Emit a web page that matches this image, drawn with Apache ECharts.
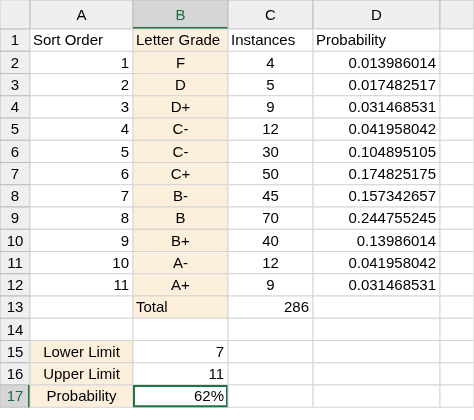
<!DOCTYPE html>
<html><head><meta charset="utf-8">
<script src="https://cdn.jsdelivr.net/npm/echarts@6/dist/echarts.min.js"></script>
<style>html,body{margin:0;padding:0;background:#fff}#c{width:474px;height:420px}</style>
</head><body><div id="c"></div>
<script>
const columnLetters = ['A','B','C','D'];
const headers = ['Sort Order','Letter Grade','Instances','Probability'];
const sortOrder = [1,2,3,4,5,6,7,8,9,10,11];
const grades = ['F','D','D+','C-','C-','C+','B-','B','B+','A-','A+'];
const instances = [4,5,9,12,30,50,45,70,40,12,9];
const probability = ['0.013986014','0.017482517','0.031468531','0.041958042','0.104895105','0.174825175','0.157342657','0.244755245','0.13986014','0.041958042','0.031468531'];
const totalLabel = 'Total', totalValue = '286';
const limitLabels = ['Lower Limit','Upper Limit','Probability'];
const limitValues = ['7','11','62%'];

const colEdges = [0,30,133,228,313,440,474];
const headerH = 29, rowH = 22.25, nRows = 17;
const rowTop = r => r===0 ? 0 : headerH + (r-1)*rowH;
const rowBot = r => r===0 ? headerH : headerH + r*rowH;
const TAN = '#fcf0dc', HEAD = '#efefef', HEADSEL = '#d6d6d6';

const cells = [];
function add(c, r, text, align, fill, opt){ cells.push(Object.assign({c,r,text:text==null?'':String(text),align:align||'left',fill:fill||'#fff'},opt||{})); }
// corner + headers
add(0,0,'','center',HEAD);
columnLetters.concat(['']).forEach((l,i)=>add(i+1,0,l,'center',i===1?HEADSEL:HEAD,{hdr:true,sel:i===1}));
for(let r=1;r<=nRows;r++) add(0,r,r,'center',r===17?HEADSEL:HEAD,{hdr:true,sel:r===17});
// body grid
const content = {};
const put=(c,r,t,a,f,o)=>content[c+','+r]=[t,a,f,o];
headers.forEach((h,i)=>put(i+1,1,h,'left',i===1?TAN:'#fff'));
for(let i=0;i<11;i++){
  put(1,i+2,sortOrder[i],'right');
  put(2,i+2,grades[i],'center',TAN);
  put(3,i+2,instances[i],'center');
  put(4,i+2,probability[i],'right');
}
put(2,13,totalLabel,'left',TAN);
put(3,13,totalValue,'right');
limitLabels.forEach((l,i)=>{put(1,15+i,l,'center',TAN); put(2,15+i,limitValues[i],'right',null,i===2?{selCell:true}:null);});
for(let r=1;r<=nRows;r++) for(let c=1;c<=5;c++){
  const v = content[c+','+r];
  if(v) add(c,r,v[0],v[1],v[2],v[3]); else add(c,r,'','left','#fff');
}

const chart = echarts.init(document.getElementById('c'));
chart.setOption({
  animation:false,
  grid:{left:0,right:0,top:0,bottom:0},
  xAxis:{type:'value',min:0,max:474,show:false},
  yAxis:{type:'value',min:0,max:420,inverse:true,show:false},
  series:[{
    type:'custom',
    data: cells.map((d,i)=>[colEdges[d.c],rowTop(d.r),i]),
    renderItem:(params,api)=>{
      const d = cells[api.value(2)];
      const p0 = api.coord([colEdges[d.c],rowTop(d.r)]);
      const p1 = api.coord([colEdges[d.c+1],rowBot(d.r)]);
      const w=p1[0]-p0[0], h=p1[1]-p0[1];
      const tx = d.align==='left'?p0[0]+3:d.align==='right'?p1[0]-4:p0[0]+w/2;
      const children=[
        {type:'rect',shape:{x:p0[0],y:p0[1],width:w,height:h},style:{fill:d.fill,stroke:d.hdr?'#bdbdbd':'#d4d4d4',lineWidth:1}},
        {type:'text',style:{x:tx,y:p0[1]+h/2+1,text:d.text,align:d.align,verticalAlign:'middle',
          font:(d.hdr?'15px':'15px')+' "Liberation Sans", Arial, sans-serif',fill:d.sel?'#1e6b41':'#000'}}
      ];
      if(d.sel && d.r===0) children.push({type:'rect',shape:{x:p0[0],y:p1[1]-2,width:w,height:2},style:{fill:'#217346'}});
      if(d.sel && d.c===0) children.push({type:'rect',shape:{x:p1[0]-2,y:p0[1],width:2,height:h},style:{fill:'#217346'}});
      if(d.selCell) children.push({type:'rect',shape:{x:p0[0]+1,y:p0[1]+1,width:w-2,height:h-2},style:{fill:'none',stroke:'#217346',lineWidth:2}});
      return {type:'group',children};
    }
  }]
});
</script></body></html>
